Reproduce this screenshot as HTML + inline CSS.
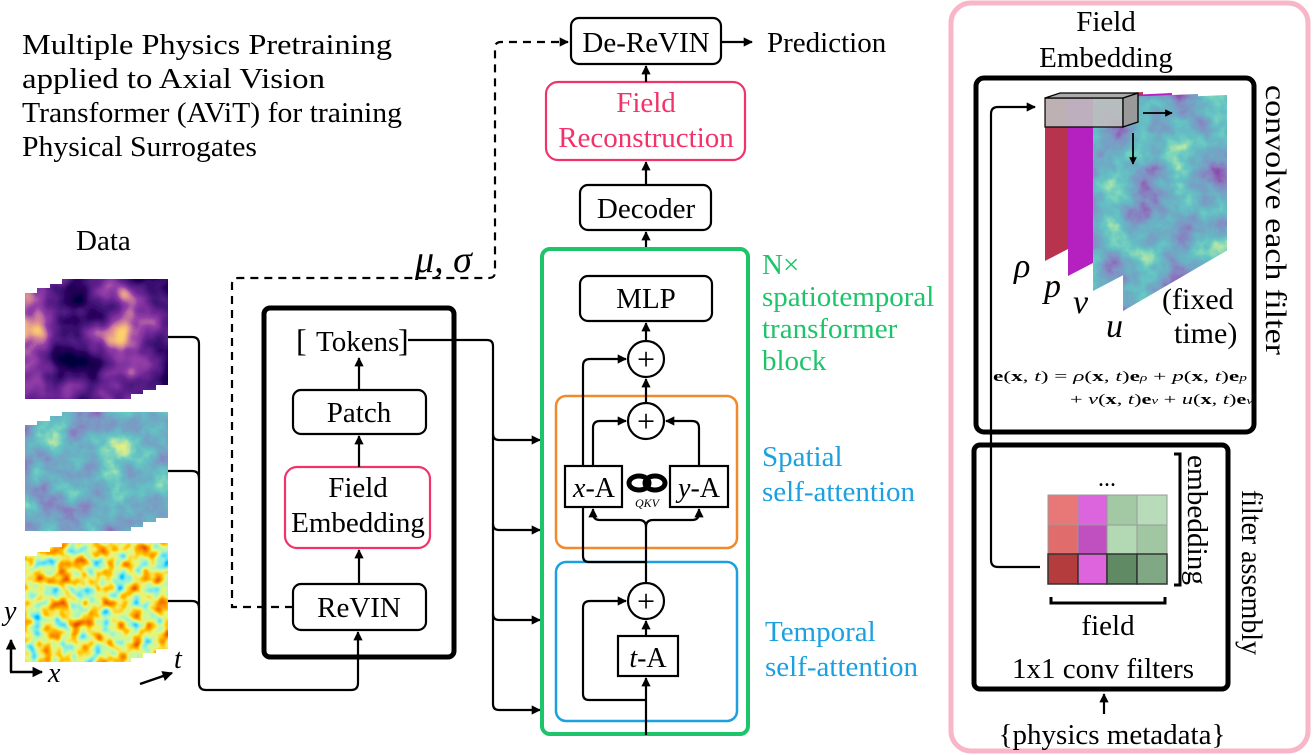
<!DOCTYPE html>
<html><head><meta charset="utf-8"><style>
html,body{margin:0;padding:0;background:#fff;width:1315px;height:755px;overflow:hidden}
svg{display:block}
text{font-family:"Liberation Serif",serif;fill:#000}
</style></head><body>
<svg width="1315" height="755" viewBox="0 0 1315 755" xmlns="http://www.w3.org/2000/svg">
<defs>
<marker id="ah" viewBox="0 0 10 10" refX="9" refY="5" markerWidth="4.2" markerHeight="4.2" orient="auto"><path d="M0,0L10,5L0,10z" fill="#000"/></marker>
<filter id="inf" x="0" y="0" width="100%" height="100%">
<feTurbulence type="fractalNoise" baseFrequency="0.02" numOctaves="3" seed="3"/>
<feColorMatrix type="matrix" values="1 0 0 0 0 1 0 0 0 0 1 0 0 0 0 0 0 0 0 1"/>
<feComponentTransfer><feFuncR type="table" tableValues="0 0 0 0 0.02 0.06 0.15 0.3 0.7 0.98 1 1"/><feFuncG type="table" tableValues="0 0 0 0 0 0.01 0.02 0.05 0.25 0.6 0.85 0.9"/><feFuncB type="table" tableValues="0.02 0.02 0.03 0.05 0.1 0.2 0.3 0.4 0.3 0.15 0.2 0.3"/></feComponentTransfer>
</filter>
<filter id="vir" x="0" y="0" width="100%" height="100%">
<feTurbulence type="fractalNoise" baseFrequency="0.03" numOctaves="4" seed="7"/>
<feColorMatrix type="matrix" values="1 0 0 0 0 1 0 0 0 0 1 0 0 0 0 0 0 0 0 1"/>
<feComponentTransfer><feFuncR type="table" tableValues="0.27 0.27 0.27 0.25 0.21 0.17 0.14 0.13 0.2 0.45 0.8 0.95"/><feFuncG type="table" tableValues="0 0.02 0.1 0.2 0.3 0.38 0.46 0.55 0.66 0.78 0.87 0.9"/><feFuncB type="table" tableValues="0.33 0.38 0.45 0.52 0.55 0.55 0.55 0.55 0.5 0.38 0.2 0.15"/></feComponentTransfer>
</filter>
<filter id="jet" x="0" y="0" width="100%" height="100%">
<feTurbulence type="fractalNoise" baseFrequency="0.07" numOctaves="2" seed="11"/>
<feColorMatrix type="matrix" values="1 0 0 0 0 1 0 0 0 0 1 0 0 0 0 0 0 0 0 1"/>
<feComponentTransfer><feFuncR type="table" tableValues="0 0 0 0.2 0.5 0.85 1 1 0.8 0.6 0.5"/><feFuncG type="table" tableValues="0.1 0.3 0.6 0.85 0.95 0.9 0.6 0.3 0.1 0 0"/><feFuncB type="table" tableValues="0.7 0.9 1 0.8 0.4 0.15 0 0 0 0 0"/></feComponentTransfer>
</filter>
</defs>

<!-- title -->
<g font-size="29">
<text x="22" y="54" textLength="370" lengthAdjust="spacingAndGlyphs">Multiple Physics Pretraining</text>
<text x="22" y="88" textLength="303" lengthAdjust="spacingAndGlyphs">applied to Axial Vision</text>
<text x="22" y="122" textLength="380" lengthAdjust="spacingAndGlyphs">Transformer (AViT) for training</text>
<text x="22" y="156" textLength="235" lengthAdjust="spacingAndGlyphs">Physical Surrogates</text>
</g>
<text x="76" y="250" font-size="29">Data</text>

<!-- data stacks -->
<g stroke="#cfc6e0" stroke-width="1">
<rect x="25" y="293" width="106" height="106" filter="url(#inf)"/>
<rect x="37" y="288" width="106" height="106" filter="url(#inf)"/>
<rect x="50" y="284" width="106" height="106" filter="url(#inf)"/>
<rect x="62" y="279" width="106" height="106" filter="url(#inf)"/>
<rect x="25" y="425" width="106" height="106" filter="url(#vir)"/>
<rect x="37" y="421" width="106" height="106" filter="url(#vir)"/>
<rect x="50" y="416" width="106" height="106" filter="url(#vir)"/>
<rect x="62" y="412" width="106" height="106" filter="url(#vir)"/>
<rect x="25" y="556" width="106" height="106" filter="url(#jet)"/>
<rect x="37" y="552" width="106" height="106" filter="url(#jet)"/>
<rect x="50" y="547" width="106" height="106" filter="url(#jet)"/>
<rect x="62" y="543" width="106" height="106" filter="url(#jet)"/>
</g>
<!-- axes -->
<g stroke="#000" stroke-width="2.5" fill="none">
<path d="M11,672V640" marker-end="url(#ah)"/>
<path d="M10,672H42" marker-end="url(#ah)"/>
<path d="M140,684L172,673" marker-end="url(#ah)"/>
</g>
<text x="4" y="620" font-size="28" font-style="italic">y</text>
<text x="48" y="682" font-size="28" font-style="italic">x</text>
<text x="174" y="668" font-size="28" font-style="italic">t</text>

<!-- data connections -->
<g stroke="#000" stroke-width="2.2" fill="none">
<path d="M168,337H192Q199,337 199,344V683Q199,690 206,690H351Q358,690 358,683V632" marker-end="url(#ah)"/>
<path d="M168,471H192Q199,471 199,478"/>
<path d="M168,601H192Q199,601 199,608"/>
</g>

<!-- dashed path -->
<g stroke="#000" stroke-width="2.2" fill="none" stroke-dasharray="8,6">
<path d="M293,607H232V284Q232,278 238,278H489Q495,278 495,272V48Q495,42 501,42H568" marker-end="url(#ah)"/>
</g>
<text x="415" y="272" font-size="38" font-style="italic">μ, σ</text>

<!-- left block -->
<rect x="264" y="308" width="190" height="349" rx="6" fill="none" stroke="#000" stroke-width="5"/>
<text x="296" y="351" font-size="32">[</text>
<text x="316" y="351" font-size="29">Tokens</text>
<text x="398" y="351" font-size="32">]</text>
<g fill="#fff" stroke="#000" stroke-width="2.2">
<rect x="293" y="390" width="133" height="44" rx="8"/>
<rect x="293" y="584" width="133" height="46" rx="8"/>
</g>
<rect x="285" y="467" width="145" height="81" rx="12" fill="#fff" stroke="#f0336a" stroke-width="2.2"/>
<g font-size="29" text-anchor="middle">
<text x="359" y="422">Patch</text>
<text x="358" y="497">Field</text>
<text x="358" y="532">Embedding</text>
<text x="359" y="617">ReVIN</text>
</g>
<g stroke="#000" stroke-width="2.2" fill="none">
<path d="M359,390V358" marker-end="url(#ah)"/>
<path d="M359,467V436" marker-end="url(#ah)"/>
<path d="M359,584V550" marker-end="url(#ah)"/>
<path d="M408,340H487Q493,340 493,346V704Q493,710 499,710H540" marker-end="url(#ah)"/>
<path d="M493,434Q493,440 499,440H540" marker-end="url(#ah)"/>
<path d="M493,524Q493,530 499,530H540" marker-end="url(#ah)"/>
<path d="M493,614Q493,620 499,620H540" marker-end="url(#ah)"/>
</g>

<!-- top column -->
<g fill="#fff" stroke="#000" stroke-width="2.2">
<rect x="571" y="18" width="150" height="46" rx="8"/>
<rect x="580" y="185" width="131" height="45" rx="8"/>
</g>
<rect x="546" y="82" width="199" height="78" rx="12" fill="#fff" stroke="#f0336a" stroke-width="2.2"/>
<g font-size="29" text-anchor="middle">
<text x="646" y="52">De-ReVIN</text>
<text x="646" y="218">Decoder</text>
<text x="646" y="112" style="fill:#f0336a">Field</text>
<text x="646" y="147" style="fill:#f0336a">Reconstruction</text>
</g>
<text x="767" y="52" font-size="29">Prediction</text>
<g stroke="#000" stroke-width="2.2" fill="none">
<path d="M722,42H752" marker-end="url(#ah)"/>
<path d="M646,82V66" marker-end="url(#ah)"/>
<path d="M646,185V162" marker-end="url(#ah)"/>
<path d="M646,250V232" marker-end="url(#ah)"/>
</g>

<!-- green block -->
<rect x="542" y="249" width="206" height="485" rx="8" fill="none" stroke="#1ec46a" stroke-width="4"/>
<rect x="556" y="396" width="181" height="152" rx="10" fill="none" stroke="#f08a2c" stroke-width="2.5"/>
<rect x="556" y="562" width="181" height="159" rx="10" fill="none" stroke="#1ca0e0" stroke-width="2.5"/>
<rect x="580" y="276" width="132" height="45" rx="8" fill="#fff" stroke="#000" stroke-width="2.2"/>
<text x="646" y="308" font-size="29" text-anchor="middle">MLP</text>
<path d="M583,400V555" stroke="#aaa" stroke-width="2" stroke-dasharray="7,5"/>
<g stroke="#000" stroke-width="2.2" fill="none">
<path d="M646,735V678" marker-end="url(#ah)"/>
<path d="M646,700H589Q583,700 583,694V608Q583,601 590,601H626" marker-end="url(#ah)"/>
<path d="M646,636V621" marker-end="url(#ah)"/>
<path d="M646,583V548"/>
<path d="M646,562H589Q583,562 583,556V366Q583,359 590,359H626" marker-end="url(#ah)"/>
<path d="M646,548V527Q646,520 639,520H600Q593,520 593,513V509" marker-end="url(#ah)"/>
<path d="M646,527Q646,520 653,520H692Q699,520 699,513V509" marker-end="url(#ah)"/>
<path d="M593,466V428Q593,421 600,421H626" marker-end="url(#ah)"/>
<path d="M699,466V428Q699,421 692,421H666" marker-end="url(#ah)"/>
<path d="M646,403V379" marker-end="url(#ah)"/>
<path d="M646,341V323" marker-end="url(#ah)"/>
</g>
<g fill="#fff" stroke="#000" stroke-width="2.2">
<circle cx="646" cy="359" r="18"/><circle cx="646" cy="421" r="18"/><circle cx="646" cy="601" r="18"/>
<rect x="565" y="466" width="57" height="41"/>
<rect x="670" y="466" width="58" height="41"/>
<rect x="618" y="636" width="60" height="40"/>
</g>
<g font-size="32" text-anchor="middle">
<text x="646" y="370">+</text><text x="646" y="432">+</text><text x="646" y="612">+</text>
</g>
<g font-size="28" text-anchor="middle">
<text x="594" y="497"><tspan font-style="italic">x</tspan>-A</text>
<text x="699" y="497"><tspan font-style="italic">y</tspan>-A</text>
<text x="648" y="667"><tspan font-style="italic">t</tspan>-A</text>
</g>
<g fill="none" stroke="#000" stroke-width="5">
<ellipse cx="639" cy="483" rx="10" ry="7"/><ellipse cx="655" cy="483" rx="10" ry="7"/>
</g>
<text x="647" y="507" font-size="12" font-style="italic" text-anchor="middle">QKV</text>

<g font-size="29">
<text x="762" y="274" style="fill:#1ec46a">N×</text>
<text x="762" y="306" style="fill:#1ec46a">spatiotemporal</text>
<text x="762" y="338" style="fill:#1ec46a">transformer</text>
<text x="762" y="370" style="fill:#1ec46a">block</text>
<text x="762" y="466" style="fill:#1ca0e0">Spatial</text>
<text x="762" y="501" style="fill:#1ca0e0">self-attention</text>
<text x="765" y="641" style="fill:#1ca0e0">Temporal</text>
<text x="765" y="676" style="fill:#1ca0e0">self-attention</text>
</g>

<!-- right panel -->
<rect x="951" y="3" width="357" height="748" rx="20" fill="none" stroke="#f8b6c8" stroke-width="5"/>
<text x="1106" y="31" font-size="29" text-anchor="middle">Field</text>
<text x="1106" y="67" font-size="29" text-anchor="middle">Embedding</text>
<rect x="976" y="78" width="278" height="354" rx="8" fill="none" stroke="#000" stroke-width="5"/>
<rect x="974" y="445" width="254" height="244" rx="6" fill="none" stroke="#000" stroke-width="5"/>
<!-- field panels -->
<polygon points="1045,98 1143,92 1143,210 1045,261" fill="#b8344e"/>
<polygon points="1068,98 1172,93 1172,222 1068,276" fill="#b520c0"/>
<rect x="1093" y="94" width="105" height="197" filter="url(#vir)" style="clip-path:polygon(0 2%,100% 0,100% 72%,0 100%)"/>
<rect x="1123" y="95" width="104" height="216" filter="url(#vir)" style="clip-path:polygon(0 2%,100% 0,100% 72%,0 100%)"/>
<rect x="1045" y="98" width="78" height="29" fill="#bfbfbf" stroke="#000" stroke-width="1.3" opacity="0.9"/>
<polygon points="1123,98 1138,93 1138,122 1123,127" fill="#999" stroke="#000" stroke-width="1.3"/>
<polygon points="1045,98 1060,93 1138,93 1123,98" fill="#aaa" stroke="#000" stroke-width="1.3"/>
<g stroke="#000" stroke-width="1.8" fill="none">
<path d="M1143,113H1172" marker-end="url(#ah)"/>
<path d="M1133,133V164" marker-end="url(#ah)"/>
<path d="M1040,567H998Q991,567 991,560V114Q991,107 998,107H1035" stroke-width="2.2" marker-end="url(#ah)"/>
</g>
<g font-size="34" font-style="italic">
<text x="1014" y="277">ρ</text>
<text x="1044" y="297">p</text>
<text x="1073" y="313">v</text>
<text x="1106" y="337">u</text>
</g>
<text x="1162" y="309" font-size="30">(fixed</text>
<text x="1174" y="343" font-size="30">time)</text>
<text x="993" y="381" font-size="15" textLength="254" lengthAdjust="spacingAndGlyphs"><tspan font-weight="bold">e</tspan>(<tspan font-weight="bold">x</tspan>, <tspan font-style="italic">t</tspan>) = <tspan font-style="italic">ρ</tspan>(<tspan font-weight="bold">x</tspan>, <tspan font-style="italic">t</tspan>)<tspan font-weight="bold">e</tspan><tspan font-size="10" font-style="italic">ρ</tspan> + <tspan font-style="italic">p</tspan>(<tspan font-weight="bold">x</tspan>, <tspan font-style="italic">t</tspan>)<tspan font-weight="bold">e</tspan><tspan font-size="10" font-style="italic">p</tspan></text>
<text x="1070" y="404" font-size="15" textLength="183" lengthAdjust="spacingAndGlyphs">+ <tspan font-style="italic">v</tspan>(<tspan font-weight="bold">x</tspan>, <tspan font-style="italic">t</tspan>)<tspan font-weight="bold">e</tspan><tspan font-size="10" font-style="italic">v</tspan> + <tspan font-style="italic">u</tspan>(<tspan font-weight="bold">x</tspan>, <tspan font-style="italic">t</tspan>)<tspan font-weight="bold">e</tspan><tspan font-size="10" font-style="italic">v</tspan></text>
<text transform="translate(1266,85) rotate(90)" font-size="30" textLength="270" lengthAdjust="spacingAndGlyphs">convolve each filter</text>

<!-- grid -->
<g stroke="#999" stroke-width="1">
<rect x="1048" y="495" width="30" height="30" fill="#e87878"/>
<rect x="1078" y="495" width="29" height="30" fill="#dc64dc"/>
<rect x="1107" y="495" width="30" height="30" fill="#a2c8a4"/>
<rect x="1137" y="495" width="30" height="30" fill="#b8dcba"/>
<rect x="1048" y="525" width="30" height="29" fill="#e06c6c"/>
<rect x="1078" y="525" width="29" height="29" fill="#c050c0"/>
<rect x="1107" y="525" width="30" height="29" fill="#b2d8b4"/>
<rect x="1137" y="525" width="30" height="29" fill="#a0c6a2"/>
</g>
<g stroke="#333" stroke-width="1.5">
<rect x="1048" y="554" width="30" height="30" fill="#b43c3c"/>
<rect x="1078" y="554" width="29" height="30" fill="#de64de"/>
<rect x="1107" y="554" width="30" height="30" fill="#5f8a64"/>
<rect x="1137" y="554" width="30" height="30" fill="#80a884"/>
</g>
<text x="1107" y="486" font-size="24" text-anchor="middle">...</text>
<path d="M1174,454H1180V585H1174" fill="none" stroke="#000" stroke-width="3"/>
<path d="M1051,597V603H1165V597" fill="none" stroke="#000" stroke-width="3"/>
<text transform="translate(1188,455) rotate(90)" font-size="29" textLength="130" lengthAdjust="spacingAndGlyphs">embedding</text>
<text transform="translate(1242,490) rotate(90)" font-size="30" textLength="165" lengthAdjust="spacingAndGlyphs">filter assembly</text>
<text x="1108" y="635" font-size="29" text-anchor="middle">field</text>
<text x="1103" y="678" font-size="29" text-anchor="middle">1x1 conv filters</text>
<path d="M1104,714V694" stroke="#000" stroke-width="2.2" marker-end="url(#ah)"/>
<text x="1112" y="744" font-size="29" text-anchor="middle">{physics metadata}</text>
</svg>
</body></html>
